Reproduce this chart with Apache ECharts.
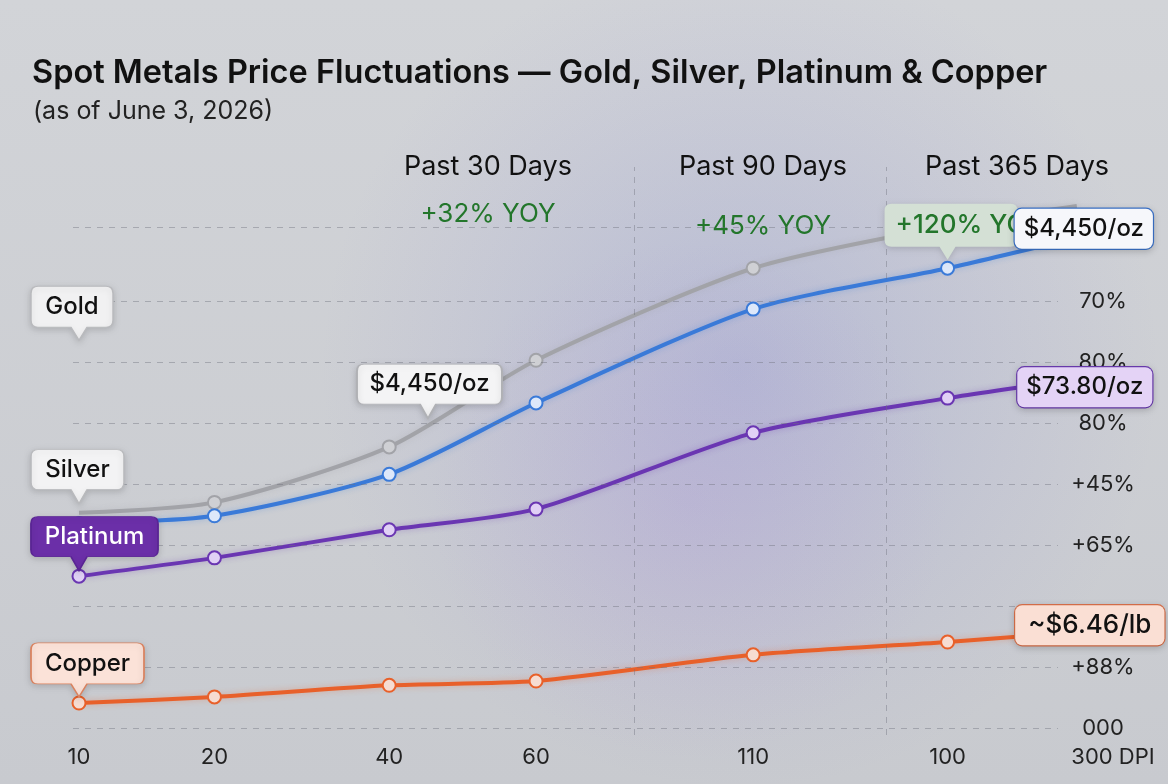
<!DOCTYPE html>
<html><head><meta charset="utf-8">
<script src="https://cdn.jsdelivr.net/npm/echarts@6/dist/echarts.min.js"></script>
<style>html,body{margin:0;padding:0;background:#cbcdd2}#c{width:1168px;height:784px}</style>
</head><body><div id="c"></div>
<script>
// ---- data ----
const xTickLabels = ['10', '20', '40', '60', '110', '100', '300 DPI'];
const xTickPos = [0, 13.1, 30.0, 44.2, 65.2, 84.0, 100];
const pointX = [0, 13.1, 30.0, 44.2, 65.2, 84.0, 96.5];
const silver = [35.3, 37.0, 46.1, 60.3, 75.4, 82.3, 85.6];
const gold = [33.5, 34.8, 41.6, 53.3, 68.7, 75.4, 80.4];
const platinum = [24.9, 27.9, 32.5, 35.9, 48.4, 54.1, 57.2];
const copper = [4.1, 5.1, 7.0, 7.7, 12.0, 14.1, 15.7];
const rightTickPos = [0, 10, 20, 30, 40, 50, 60, 70, 80];
const rightTickLabels = ['000', '+88%', '', '+65%', '+45%', '80%', '80%', '70%', ''];
const gridLineVals = [0, 10, 20, 30, 40, 50, 60, 70, 82.16];
const dividerVals = [53.7, 78.1];
const sectionHeaders = ['Past 30 Days', 'Past 90 Days', 'Past 365 Days'];
const yoyLabels = ['+32% YOY', '+45% YOY', '+120% YOY'];
const endLabels = ['$4,450/oz', '$73.80/oz', '~$6.46/lb'];
const seriesNames = ['Gold', 'Silver', 'Platinum', 'Copper'];

const FONT = 'Inter, "Noto Sans", sans-serif';
const chart = echarts.init(document.getElementById('c'));
const LAST = pointX.length - 1;

function bubble(w, h, px, ph, r) {
  const pw = 8;
  return 'path://M' + r + ',0 L' + (w - r) + ',0 Q' + w + ',0 ' + w + ',' + r +
    ' L' + w + ',' + (h - r) + ' Q' + w + ',' + h + ' ' + (w - r) + ',' + h +
    ' L' + (px + pw) + ',' + h + ' L' + px + ',' + (h + ph) + ' L' + (px - pw) + ',' + h +
    ' L' + r + ',' + h + ' Q0,' + h + ' 0,' + (h - r) + ' L0,' + r + ' Q0,0 ' + r + ',0 Z';
}
function callout(text, coord, w, h, px, ph, fill, border, color, opts) {
  opts = opts || {};
  return {
    coord: coord,
    symbol: bubble(w, h, px, ph, 7),
    symbolSize: [w, h + ph],
    symbolKeepAspect: false,
    symbolOffset: [w / 2 - px, -(h + ph) / 2],
    itemStyle: { color: fill, borderColor: border || 'rgba(0,0,0,0)', borderWidth: border ? 1.2 : 0,
      shadowBlur: 6, shadowColor: 'rgba(0,0,0,0.15)', shadowOffsetY: 2 },
    label: { show: true, position: opts.position || 'inside', offset: [opts.dx || 0, -ph / 2], formatter: text,
      color: color, fontSize: opts.fs || 24, fontWeight: 500, fontFamily: FONT }
  };
}
function endTag(text, ys, offset, bg, border, padX, fs) {
  return {
    coord: [pointX[LAST], ys[LAST]],
    symbol: 'rect', symbolSize: 1, itemStyle: { color: 'rgba(0,0,0,0)' },
    label: { show: true, position: 'inside', offset: offset, formatter: text,
      fontSize: fs || 24, fontWeight: 500, fontFamily: FONT, color: '#111',
      backgroundColor: bg, borderColor: border, borderWidth: 1.2, borderRadius: 7,
      padding: [6, padX, 6, padX], lineHeight: 28,
      shadowBlur: 6, shadowColor: 'rgba(0,0,0,0.15)', shadowOffsetY: 2 }
  };
}
function pts(ys) {
  const d = ys.map((y, i) => [pointX[i], y]);
  d[LAST] = { value: d[LAST], symbolSize: 0 };
  return d;
}
function lineSeries(name, data, color, fill, extra) {
  return Object.assign({
    name: name, type: 'line', xAxisIndex: 1, yAxisIndex: 1, data: data,
    smooth: 0.25, clip: false,
    symbol: 'circle', symbolSize: 13,
    lineStyle: { color: color, width: 4, shadowBlur: 6, shadowColor: color + '55' },
    itemStyle: { color: fill, borderColor: color, borderWidth: 2 },
    z: 3
  }, extra || {});
}

const silverData = pts(silver);
silverData[0] = { value: silverData[0], symbolSize: 0 };

const hdrFont = '400 27px ' + FONT;
const yoyFont = '400 26px ' + FONT;

const option = {
  backgroundColor: new echarts.graphic.LinearGradient(0, 0, 0, 1, [
    { offset: 0, color: '#d2d4d8' }, { offset: 1, color: '#c8cacf' }]),
  animation: false,
  title: [
    { text: 'Spot Metals Price Fluctuations — Gold, Silver, Platinum & Copper',
      left: 27, top: 52, textStyle: { fontFamily: FONT, fontSize: 32.5, fontWeight: 600, color: '#111' } },
    { text: '(as of June 3, 2026)', left: 28, top: 94,
      textStyle: { fontFamily: FONT, fontSize: 25, fontWeight: 400, color: '#222' } }
  ],
  graphic: [
    { type: 'circle', shape: { cx: 740, cy: 370, r: 420 }, silent: true, z: -10,
      style: { fill: new echarts.graphic.RadialGradient(0.5, 0.5, 0.5, [
        { offset: 0, color: 'rgba(115,125,210,0.27)' },
        { offset: 0.55, color: 'rgba(125,130,210,0.12)' },
        { offset: 1, color: 'rgba(140,135,210,0)' }]) } },
    { type: 'circle', shape: { cx: 690, cy: 500, r: 260 }, silent: true, z: -9,
      style: { fill: new echarts.graphic.RadialGradient(0.5, 0.5, 0.5, [
        { offset: 0, color: 'rgba(170,120,220,0.14)' },
        { offset: 1, color: 'rgba(170,120,220,0)' }]) } },
    { type: 'text', x: 488, y: 167, silent: true, style: { text: sectionHeaders[0], align: 'center', verticalAlign: 'middle', font: hdrFont, fill: '#111' } },
    { type: 'text', x: 763, y: 167, silent: true, style: { text: sectionHeaders[1], align: 'center', verticalAlign: 'middle', font: hdrFont, fill: '#111' } },
    { type: 'text', x: 1017, y: 167, silent: true, style: { text: sectionHeaders[2], align: 'center', verticalAlign: 'middle', font: hdrFont, fill: '#111' } },
    { type: 'text', x: 488, y: 214, silent: true, style: { text: yoyLabels[0], align: 'center', verticalAlign: 'middle', font: yoyFont, fill: '#23762b' } },
    { type: 'text', x: 763, y: 226, silent: true, style: { text: yoyLabels[1], align: 'center', verticalAlign: 'middle', font: yoyFont, fill: '#23762b' } }
  ],
  grid: [
    { left: 73, right: 110, top: 167, bottom: 49 },
    { left: 79, right: 55, top: 167, bottom: 56 }
  ],
  xAxis: [
    { gridIndex: 0, type: 'value', min: -0.58, max: 94.68, show: false },
    { gridIndex: 1, type: 'value', min: 0, max: 100,
      axisLine: { show: false }, axisTick: { show: false }, splitLine: { show: false },
      axisLabel: { customValues: xTickPos, margin: 18, color: '#222', fontSize: 22, fontFamily: FONT,
        formatter: v => { const i = xTickPos.findIndex(p => Math.abs(p - v) < 0.01); return i >= 0 ? xTickLabels[i] : ''; } } }
  ],
  yAxis: [
    { gridIndex: 0, type: 'value', min: -1.15, max: 92, position: 'right',
      axisLine: { show: false }, axisTick: { show: false }, splitLine: { show: false },
      axisLabel: { customValues: rightTickPos, align: 'center', margin: 45, color: '#222', fontSize: 22, fontFamily: FONT,
        formatter: v => { const i = rightTickPos.findIndex(p => Math.abs(p - v) < 0.01); return i >= 0 ? rightTickLabels[i] : ''; } } },
    { gridIndex: 1, type: 'value', min: 0, max: 92, show: false }
  ],
  series: [
    { type: 'line', xAxisIndex: 0, yAxisIndex: 0, data: [], silent: true, z: 1,
      markLine: { silent: true, symbol: 'none', animation: false,
        label: { show: false },
        lineStyle: { type: [6, 6], color: 'rgba(110,112,125,0.42)', width: 1 },
        data: gridLineVals.map(v => ({ yAxis: v })).concat(dividerVals.map(v => ({ xAxis: v }))) } },
    lineSeries(seriesNames[1], silverData, '#a2a3a8', '#cfd0d4', {
      markPoint: { silent: true, z: 5, data: [
        callout(seriesNames[0], [0, 63.6], 82, 41, 48, 13, '#f1f1f2', '#b9babd', '#111'),
        callout(seriesNames[1], [0, 36.8], 93, 40, 48, 14, '#f3f3f4', '#b9babd', '#111'),
        callout(endLabels[0], [33.75, 50.8], 145, 40, 71, 14, '#f4f4f5', '#b0b1b5', '#111'),
        callout(yoyLabels[2], [84.0, 76.8], 133, 43, 63, 13, '#d4e0d5', null, '#23762b',
          { fs: 26, position: 'insideLeft', dx: 6 })
      ] } }),
    lineSeries(seriesNames[0], pts(gold), '#3a7ad8', '#dde8fa', {
      markPoint: { silent: true, z: 8, data: [
        endTag(endLabels[0], gold, [7, -9], '#f6f7fb', '#3b72c9', 9)
      ] } }),
    lineSeries(seriesNames[2], pts(platinum), '#6a36b2', '#e0d0f5', {
      markPoint: { silent: true, z: 5, data: [
        callout(seriesNames[2], [0, 25.8], 127, 40, 48, 14, '#6b2fa8', '#5a2594', '#ffffff')
      ] } }),
    lineSeries(seriesNames[3], pts(copper), '#e8602a', '#f6dcd2', {
      markPoint: { silent: true, z: 5, data: [
        callout(seriesNames[3], [0, 5.1], 113, 41, 48, 13, '#fbe2d8', '#d9825f', '#111')
      ] } }),
    { type: 'line', xAxisIndex: 1, yAxisIndex: 1, data: [], silent: true, z: 8,
      markPoint: { silent: true, z: 8, data: [
        endTag(endLabels[1], platinum, [8, 8], '#e4d3f6', '#6a3bb0', 9),
        endTag(endLabels[2], copper, [13, -7], '#fadfd4', '#d9704a', 13, 26)
      ] } }
  ]
};
chart.setOption(option);
</script>
</body></html>
